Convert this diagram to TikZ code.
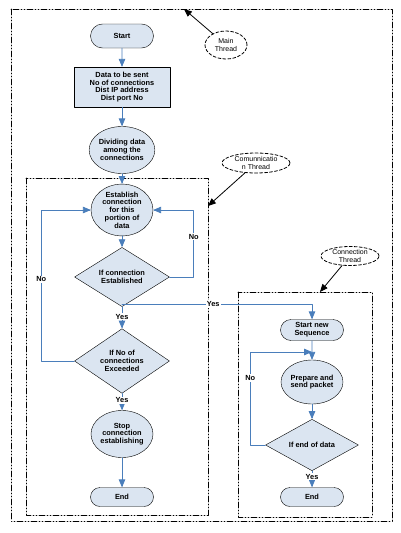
\documentclass[tikz,border=0pt]{standalone}
\usepackage{fontspec}
\setmainfont{Liberation Sans}
\usetikzlibrary{arrows,shapes.geometric,shapes.misc}
\definecolor{boxfill}{HTML}{DBE5F1}
\definecolor{flowblue}{HTML}{4A7EBB}

\begin{document}
\begin{tikzpicture}[x=1pt,y=-1pt,line cap=round,line join=round,>=triangle 45,
    font=\fontsize{7.4}{7.8}\selectfont\bfseries,
    box/.style={draw,fill=boxfill,align=center,inner sep=0pt},
    term/.style={box,rounded rectangle,minimum width=63,minimum height=21},
    proc/.style={box,ellipse,minimum width=62,minimum height=45},
    cond/.style={box,diamond,minimum width=95,minimum height=41},
    flow/.style={->,draw=flowblue,thick},
    lbl/.style={fill=white,inner sep=1pt},
    thread/.style={thick,dash pattern=on 6pt off 2pt on 1pt off 2pt on 1pt off 2pt},
    callout/.style={draw,thick,dash pattern=on 3pt off 2pt,ellipse,align=center,inner sep=0pt,font=\fontsize{7}{7.6}\selectfont}]
  \useasboundingbox (0,0) rectangle (401,533);
  % thread frames
  \draw[thread] (11,9) rectangle (392,521);
  \draw[thread] (26,178) rectangle (208,515);
  \draw[thread] (238,292) rectangle (372,517);
  % main thread
  \node[term,minimum height=24] (start) at (122,36) {Start};
  \node[box,rectangle,minimum width=96,minimum height=40] (info) at (122,87) {Data to be sent\\No of connections\\Dist IP address\\Dist port No};
  \node[proc,minimum height=47] (divide) at (122,150) {Dividing data\\among the\\connections};
  % communication thread
  \node[proc] (est) at (122,210) {Establish\\connection\\for this\\portion of\\data};
  \node[cond] (ifcon) at (122,277) {If connection\\Established};
  \node[cond,minimum height=38] (ifexc) at (122,361) {If No of\\connections\\Exceeded};
  \node[proc,minimum height=47] (stop) at (122,434) {Stop\\connection\\establishing};
  \node[term,minimum height=19] (end) at (122,497) {End};
  % connection thread
  \node[term] (seq) at (312,330) {Start new\\Sequence};
  \node[proc,minimum height=44] (send) at (312,382) {Prepare and\\send packet};
  \node[cond,minimum width=93,minimum height=43] (ifend) at (312,445) {If end of data};
  \node[term,minimum height=19] (end2) at (312,497) {End};
  \coordinate (br) at (122,304);
  \coordinate (lp) at (312,352);
  \draw[flow] (start) -- (info);
  \draw[flow] (info) -- (divide);
  \draw[flow] (divide) -- (est);
  \draw[flow] (est) -- (ifcon);
  \draw[flow] (ifcon) -- (ifexc) node[lbl,pos=0.45] {Yes};
  \draw[flow] (ifcon.east) -- ++(24,0) |- (est.east) node[lbl,pos=0.3] {No};
  \draw[flow] (ifexc.west) -- ++(-33,0) |- (est.west) node[lbl,pos=0.27] {No};
  \draw[flow] (br) -| (seq.north) node[lbl,pos=0.24] {Yes};
  \draw[flow] (ifexc) -- (stop) node[lbl,pos=0.4] {Yes};
  \draw[flow] (stop) -- (end);
  \draw[flow] (seq) -- (send);
  \draw[flow] (send) -- (ifend);
  \draw[flow] (ifend.west) -- ++(-15,0) |- (lp) node[lbl,pos=0.36] {No};
  \draw[flow] (ifend) -- (end2) node[lbl,pos=0.35] {Yes};
  % thread captions
  \node[callout,minimum width=42,minimum height=28] (mainth) at (226,45) {Main\\Thread};
  \node[callout,minimum width=68,minimum height=20] (commth) at (256,163) {Comunnicatio\\n Thread};
  \node[callout,minimum width=58,minimum height=19] (connth) at (350,256) {Connection\\Thread};
  \coordinate (mainedge) at (184,9);
  \coordinate (commedge) at (208,206);
  \coordinate (connedge) at (320,292);
  \draw[->,thick] (mainth) -- (mainedge);
  \draw[->,thick] (commth) -- (commedge);
  \draw[->,thick] (connth) -- (connedge);
\end{tikzpicture}
\end{document}
